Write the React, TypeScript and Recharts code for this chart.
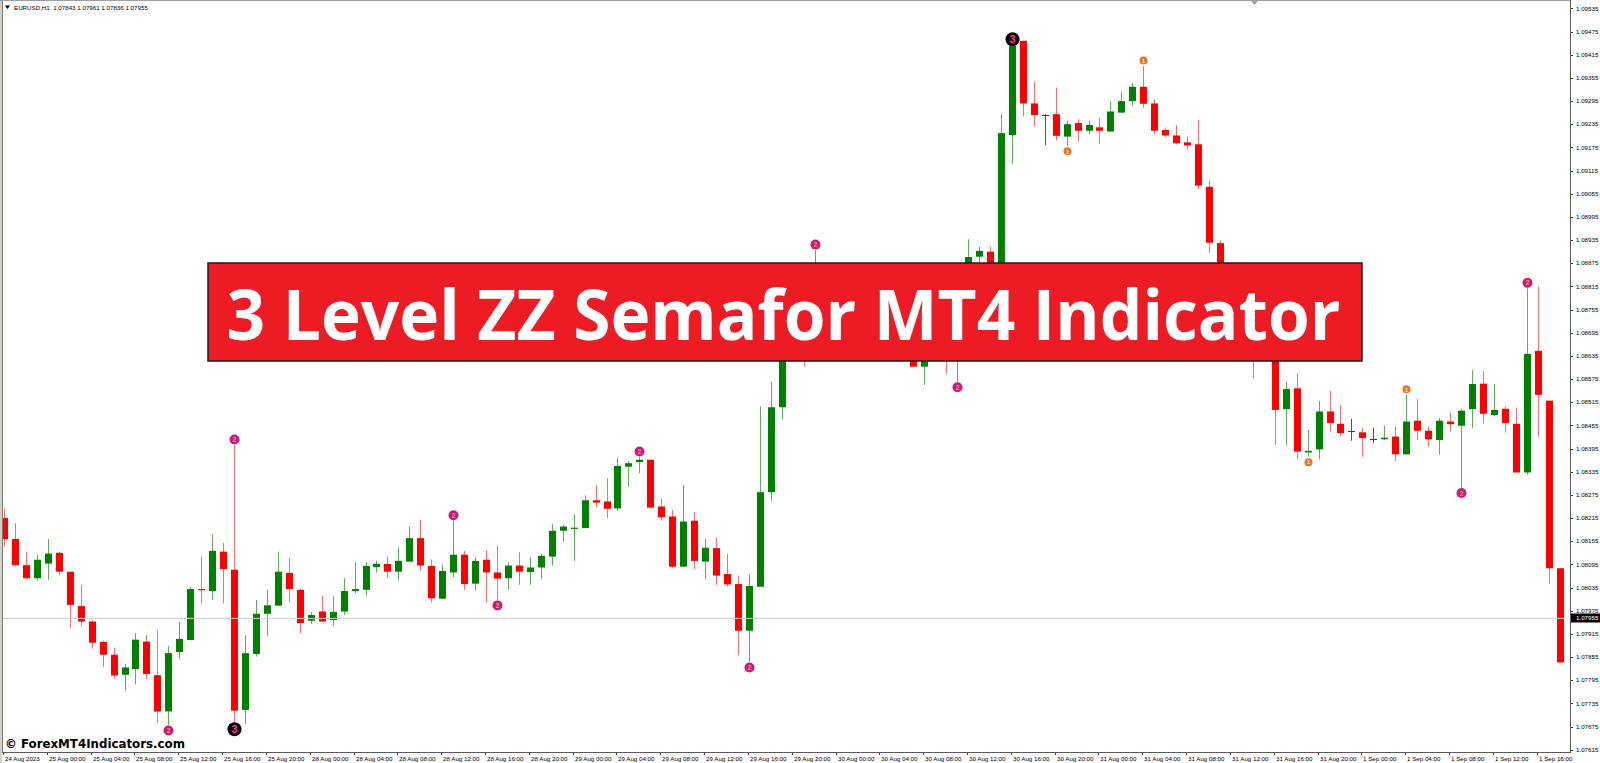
import React from "react";
import { ComposedChart, Bar, XAxis, YAxis, ReferenceLine } from "recharts";

// EURUSD H1 candles, 24 Aug 20:00 .. 1 Sep 18:00
const opens = [
  1.08215, 1.08161, 1.08093, 1.08059, 1.08097, 1.08125, 1.08076, 1.07987, 1.07947, 1.07894,
  1.07861, 1.07809, 1.07824, 1.07895, 1.07808, 1.07714, 1.07868, 1.07899, 1.08031, 1.08026,
  1.08128, 1.08081, 1.07718, 1.07863, 1.07967, 1.07988, 1.08073, 1.08029, 1.07949, 1.07973,
  1.07951, 1.07973, 1.08026, 1.08029, 1.08088, 1.08096, 1.08076, 1.08102, 1.08163, 1.08091,
  1.08006, 1.08074, 1.0812, 1.08045, 1.08107, 1.08074, 1.08059, 1.08092, 1.08075, 1.08087,
  1.08115, 1.08182, 1.08187, 1.08189, 1.08261, 1.08258, 1.0824, 1.08348, 1.0836, 1.08366,
  1.08245, 1.08219, 1.08089, 1.08208, 1.08102, 1.08137, 1.0807, 1.08044, 1.07923, 1.08037,
  1.08282, 1.08502, 1.0878, 1.08832, 1.08702, 1.08819, 1.0878, 1.08726, 1.08767, 1.08689,
  1.08733, 1.08676, 1.08713, 1.08663, 1.08607, 1.08663, 1.0865, 1.08635, 1.08702, 1.08892,
  1.08905, 1.08845, 1.09207, 1.09451, 1.09289, 1.09259, 1.09261, 1.09203, 1.09238, 1.09218,
  1.09227, 1.09216, 1.09265, 1.09295, 1.09332, 1.09289, 1.0922, 1.09206, 1.09188, 1.09183,
  1.09073, 1.08927, 1.0878, 1.08702, 1.08733, 1.08663, 1.08645, 1.08497, 1.08551, 1.08385,
  1.08393, 1.08491, 1.08459, 1.08441, 1.08437, 1.0842, 1.08419, 1.08426, 1.0838, 1.08467,
  1.08441, 1.08417, 1.08465, 1.08454, 1.08497, 1.08563, 1.08482, 1.08498, 1.08459, 1.08333,
  1.08648, 1.08519, 1.08085,
];
const highs = [
  1.0824, 1.08202, 1.08128, 1.0812, 1.08161, 1.08128, 1.08076, 1.08042, 1.07951, 1.07898,
  1.07879, 1.07837, 1.07917, 1.07912, 1.07924, 1.07884, 1.07946, 1.08036, 1.08115, 1.08173,
  1.08151, 1.08404, 1.07912, 1.08003, 1.08029, 1.08128, 1.08111, 1.08032, 1.07971, 1.08013,
  1.08013, 1.08059, 1.08101, 1.08101, 1.08105, 1.08115, 1.08139, 1.08193, 1.0821, 1.08108,
  1.08094, 1.08208, 1.0813, 1.08114, 1.08133, 1.08144, 1.08101, 1.08126, 1.08114, 1.08122,
  1.08199, 1.08197, 1.08225, 1.08274, 1.08301, 1.08318, 1.0837, 1.08362, 1.08373, 1.08366,
  1.08265, 1.08236, 1.08301, 1.08231, 1.08161, 1.08165, 1.08122, 1.08066, 1.08068, 1.08504,
  1.08568, 1.08806, 1.08863, 1.08853, 1.08909, 1.08845, 1.08801, 1.08785, 1.0878, 1.08754,
  1.08749, 1.08733, 1.08726, 1.08689, 1.08676, 1.08682, 1.08671, 1.08723, 1.08937, 1.08918,
  1.08918, 1.09261, 1.09441, 1.09451, 1.09345, 1.09261, 1.0933, 1.09244, 1.09248, 1.09244,
  1.09251, 1.09295, 1.0932, 1.09342, 1.09386, 1.093, 1.09227, 1.09233, 1.09203, 1.09246,
  1.09088, 1.08934, 1.08806, 1.08767, 1.08754, 1.08689, 1.08663, 1.08568, 1.0859, 1.08443,
  1.08518, 1.08544, 1.08508, 1.08472, 1.08448, 1.08448, 1.08454, 1.08452, 1.08534, 1.08523,
  1.08452, 1.08474, 1.08488, 1.08498, 1.08599, 1.08596, 1.08562, 1.08504, 1.08501, 1.0881,
  1.08814, 1.08519, 1.08085,
];
const lows = [
  1.08141, 1.08089, 1.08058, 1.08053, 1.08055, 1.08067, 1.0793, 1.07936, 1.07877, 1.07829,
  1.07799, 1.07768, 1.07784, 1.07798, 1.07684, 1.07679, 1.07849, 1.07898, 1.07994, 1.08003,
  1.07994, 1.07682, 1.07681, 1.07856, 1.07908, 1.07988, 1.07996, 1.07917, 1.07941, 1.07946,
  1.07936, 1.07964, 1.0802, 1.08015, 1.08074, 1.0806, 1.08053, 1.08102, 1.08079, 1.07996,
  1.08006, 1.08062, 1.08029, 1.08027, 1.07996, 1.08003, 1.08029, 1.08042, 1.08042, 1.08057,
  1.08092, 1.08154, 1.08104, 1.08189, 1.08242, 1.08215, 1.08234, 1.08296, 1.08331, 1.08242,
  1.08208, 1.08085, 1.08089, 1.08083, 1.08057, 1.08042, 1.08037, 1.07861, 1.07842, 1.08037,
  1.0826, 1.08469, 1.08754, 1.08607, 1.08676, 1.08754, 1.08707, 1.08697, 1.08663, 1.08656,
  1.0865, 1.08645, 1.08638, 1.08607, 1.0856, 1.0863, 1.08588, 1.08568, 1.08676, 1.08858,
  1.08827, 1.08819, 1.09132, 1.09255, 1.09229, 1.09181, 1.09193, 1.09179, 1.0919, 1.09209,
  1.09184, 1.09216, 1.09265, 1.09282, 1.09278, 1.09209, 1.09202, 1.09183, 1.0917, 1.09067,
  1.08901, 1.08754, 1.08676, 1.08671, 1.08577, 1.08627, 1.08404, 1.08404, 1.08368, 1.08374,
  1.08367, 1.08439, 1.08426, 1.08415, 1.08374, 1.08409, 1.08417, 1.08363, 1.0838, 1.08417,
  1.084, 1.08379, 1.08439, 1.08294, 1.08448, 1.0846, 1.08478, 1.08436, 1.08333, 1.08327,
  1.08426, 1.08044, 1.07841,
];
const closes = [
  1.0816, 1.08093, 1.08059, 1.08107, 1.08123, 1.08076, 1.0799, 1.07947, 1.07892, 1.07861,
  1.07807, 1.07828, 1.079, 1.07811, 1.07714, 1.07865, 1.07902, 1.08031, 1.08029, 1.0813,
  1.08083, 1.07716, 1.07865, 1.07967, 1.07989, 1.08076, 1.08031, 1.07943, 1.07964, 1.07947,
  1.07972, 1.08026, 1.08031, 1.08091, 1.08096, 1.08076, 1.08104, 1.08163, 1.08092, 1.08007,
  1.08078, 1.0812, 1.08044, 1.08104, 1.08074, 1.08058, 1.08092, 1.08076, 1.08087, 1.08117,
  1.08182, 1.08193, 1.0819, 1.08261, 1.08255, 1.08239, 1.0835, 1.08357, 1.08366, 1.08242,
  1.08217, 1.08089, 1.08206, 1.08104, 1.08138, 1.08066, 1.08043, 1.07923, 1.08039, 1.08282,
  1.08502, 1.0878, 1.08845, 1.08702, 1.08819, 1.0878, 1.08726, 1.08767, 1.08689, 1.08733,
  1.08676, 1.08713, 1.08663, 1.08607, 1.08663, 1.08645, 1.08635, 1.08702, 1.08891, 1.08907,
  1.08845, 1.09212, 1.09438, 1.09289, 1.09259, 1.09259, 1.09205, 1.09235, 1.09218, 1.09233,
  1.09218, 1.09268, 1.09295, 1.09332, 1.09288, 1.09218, 1.09206, 1.09186, 1.0918, 1.09076,
  1.08928, 1.0878, 1.08702, 1.08741, 1.0865, 1.08638, 1.08495, 1.08549, 1.08387, 1.08389,
  1.08491, 1.08461, 1.08435, 1.08441, 1.08422, 1.0842, 1.08423, 1.0838, 1.08465, 1.08441,
  1.08419, 1.08467, 1.08458, 1.08493, 1.08562, 1.08485, 1.08495, 1.08461, 1.08333, 1.0864,
  1.08534, 1.08085, 1.07841,
];

// 3 Level ZZ Semafor signals: bar index, level, H = above high / L = below low
const markerBars = [15, 21, 21, 41, 45, 58, 68, 74, 87, 92, 97, 104, 119, 128, 133, 139];
const markerLevels = [2, 2, 3, 2, 2, 2, 2, 2, 2, 3, 1, 1, 1, 1, 2, 2];
const markerSides = ["L", "H", "L", "H", "L", "H", "L", "H", "L", "H", "L", "H", "L", "H", "L", "H"];

// time labels, one every 4 bars
const timeLabels = [
  "24 Aug 2023", "25 Aug 00:00", "25 Aug 04:00", "25 Aug 08:00", "25 Aug 12:00", "25 Aug 16:00",
  "25 Aug 20:00", "28 Aug 00:00", "28 Aug 04:00", "28 Aug 08:00", "28 Aug 12:00", "28 Aug 16:00",
  "28 Aug 20:00", "29 Aug 00:00", "29 Aug 04:00", "29 Aug 08:00", "29 Aug 12:00", "29 Aug 16:00",
  "29 Aug 20:00", "30 Aug 00:00", "30 Aug 04:00", "30 Aug 08:00", "30 Aug 12:00", "30 Aug 16:00",
  "30 Aug 20:00", "31 Aug 00:00", "31 Aug 04:00", "31 Aug 08:00", "31 Aug 12:00", "31 Aug 16:00",
  "31 Aug 20:00", "1 Sep 00:00", "1 Sep 04:00", "1 Sep 08:00", "1 Sep 12:00", "1 Sep 16:00",
];

const priceTicks = [
  1.07615, 1.07675, 1.07735, 1.07795, 1.07855, 1.07915, 1.07975, 1.08035, 1.08095, 1.08155,
  1.08215, 1.08275, 1.08335, 1.08395, 1.08455, 1.08515, 1.08575, 1.08635, 1.08695, 1.08755,
  1.08815, 1.08875, 1.08935, 1.08995, 1.09055, 1.09115, 1.09175, 1.09235, 1.09295, 1.09355,
  1.09415, 1.09475, 1.09535,
];

const bidPrice = 1.07955;
const header = "EURUSD,H1  1.07843 1.07961 1.07836 1.07955";
const title = "3 Level ZZ Semafor MT4 Indicator";
const watermark = "\u00A9 ForexMT4Indicators.com";

const rows = opens.map((o, i) => ({
  i,
  open: o,
  high: highs[i],
  low: lows[i],
  close: closes[i],
  range: [lows[i], highs[i]],
  marks: markerBars
    .map((b, k) => ({ b, level: markerLevels[k], side: markerSides[k] }))
    .filter((m) => m.b === i),
}));
const tickIdx = timeLabels.map((_, k) => k * 4);

const AXIS_FONT = "'Liberation Sans', Arial, sans-serif";

const MARK: Record<number, { r: number; fill: string; text: string; fs: number }> = {
  1: { r: 4, fill: "#e2762a", text: "#ffe3c4", fs: 6 },
  2: { r: 5, fill: "#c8188a", text: "#ff9d3a", fs: 7 },
  3: { r: 7, fill: "#000000", text: "#ff3fa3", fs: 11 },
};

function Candle(props: any) {
  const { x, y, width, height, payload } = props;
  if (!payload || y == null) return null;
  const { open, high, low, close, marks } = payload;
  const k = height / (high - low || 1e-9);
  const py = (p: number) => y + (high - p) * k;
  const cx = Math.round(x + width / 2);
  const flat = open === close;
  const up = close > open;
  const body = flat ? "#3a3a3a" : up ? "#008000" : "#ff0000";
  const wick = flat ? "#555555" : up ? "#5cae5c" : "#ff6b6b";
  const top = py(Math.max(open, close));
  const bot = py(Math.min(open, close));
  return (
    <g>
      <line x1={cx + 0.5} x2={cx + 0.5} y1={py(high)} y2={py(low)} stroke={wick} strokeWidth={1} />
      {flat ? (
        <line x1={cx - 3} x2={cx + 4} y1={Math.round(top) + 0.5} y2={Math.round(top) + 0.5} stroke={body} />
      ) : (
        <rect x={cx - 3} y={top} width={7} height={Math.max(1.2, bot - top)} fill={body} />
      )}
      {marks.map((m: any, n: number) => {
        const s = MARK[m.level];
        const my = m.side === "H" ? py(high) - 5.5 : py(low) + 5.5;
        return (
          <g key={n}>
            <circle cx={cx + 0.5} cy={my} r={s.r} fill={s.fill} />
            <text
              x={cx + 0.5}
              y={my}
              dy="0.36em"
              textAnchor="middle"
              fontSize={s.fs}
              fontWeight={700}
              fontFamily={AXIS_FONT}
              fill={s.text}
            >
              {m.level}
            </text>
          </g>
        );
      })}
    </g>
  );
}

function PriceTick(props: any) {
  const { y, payload } = props;
  return (
    <g>
      <line x1={1570} x2={1573} y1={Math.round(y) + 0.5} y2={Math.round(y) + 0.5} stroke="#404040" />
      <text x={1576} y={y} dy="0.35em" fontSize={6.2} fontFamily={AXIS_FONT} fill="#000">
        {Number(payload.value).toFixed(5)}
      </text>
    </g>
  );
}

function TimeTick(props: any) {
  const { x, payload } = props;
  const tx = Math.round(x) - 1;
  return (
    <g>
      <line x1={tx + 0.5} x2={tx + 0.5} y1={752} y2={755} stroke="#404040" />
      <text x={tx + 2} y={760.5} fontSize={6.2} fontFamily={AXIS_FONT} fill="#000">
        {timeLabels[payload.value / 4]}
      </text>
    </g>
  );
}

function BidLabel(props: any) {
  const vb = props.viewBox || {};
  const y = Math.round(vb.y);
  return (
    <g>
      <rect x={1571} y={y - 4.5} width={29} height={9} fill="#000" />
      <text x={1576} y={y} dy="0.35em" fontSize={6.2} fontFamily={AXIS_FONT} fill="#fff">
        {bidPrice.toFixed(5)}
      </text>
    </g>
  );
}

export default function App() {
  return (
    <div
      style={{
        position: "fixed",
        left: 0,
        top: 0,
        width: 1600,
        height: 763,
        background: "#ffffff",
        overflow: "hidden",
      }}
    >
      <ComposedChart
        width={1600}
        height={763}
        data={rows}
        margin={{ top: 3, right: 0, bottom: 0, left: -1.5 }}
        barCategoryGap={0}
      >
        <XAxis
          dataKey="i"
          type="category"
          ticks={tickIdx}
          interval={0}
          height={11}
          axisLine={false}
          tickLine={false}
          tick={<TimeTick />}
        />
        <YAxis
          orientation="right"
          width={35}
          domain={[1.07609, 1.09549]}
          allowDataOverflow
          ticks={priceTicks}
          interval={0}
          axisLine={false}
          tickLine={false}
          tick={<PriceTick />}
        />
        <ReferenceLine y={bidPrice} stroke="#cfcfcf" strokeWidth={1} label={<BidLabel />} />
        <Bar
          dataKey="range"
          barSize={7}
          shape={(p: any) => <Candle {...p} />}
          isAnimationActive={false}
        />
      </ComposedChart>

      <svg
        width={1600}
        height={763}
        style={{ position: "absolute", left: 0, top: 0, pointerEvents: "none" }}
      >
        {/* window frame */}
        <rect x={0} y={0} width={2} height={763} fill="#d4d0c8" />
        <rect x={2} y={0} width={1} height={753} fill="#7a7a7a" />
        <rect x={0} y={0} width={1571} height={1} fill="#a0a0a0" />
        {/* axis lines */}
        <rect x={3} y={752} width={1568} height={1} fill="#5a5a5a" />
        <rect x={1570} y={0} width={1} height={753} fill="#5a5a5a" />
        {/* chart shift marker */}
        <polygon points="1251,1 1258,1 1254.5,5" fill="#a0a0a0" />
        {/* symbol header */}
        <polygon points="5,5.5 10,5.5 7.5,9" fill="#000" />
        <text x={14} y={10} fontSize={6.2} fontFamily={AXIS_FONT} fill="#000" xmlSpace="preserve">
          {header}
        </text>
        {/* watermark */}
        <text
          x={5}
          y={748}
          fontSize={12.5}
          fontWeight={700}
          textLength={180}
          lengthAdjust="spacingAndGlyphs"
          fontFamily="'DejaVu Sans', Verdana, sans-serif"
          fill="#000"
        >
          {watermark}
        </text>
        {/* title banner */}
        <rect x={208} y={263} width={1154} height={98} fill="#ed1c24" stroke="#1c1c1c" strokeWidth={1.5} />
        <text
          x={226.5}
          y={339.5}
          textLength={1114}
          lengthAdjust="spacingAndGlyphs"
          fontSize={70}
          fontWeight={700}
          fontFamily="'Open Sans', 'Noto Sans', sans-serif"
          fill="#ffffff"
        >
          {title}
        </text>
      </svg>
    </div>
  );
}
